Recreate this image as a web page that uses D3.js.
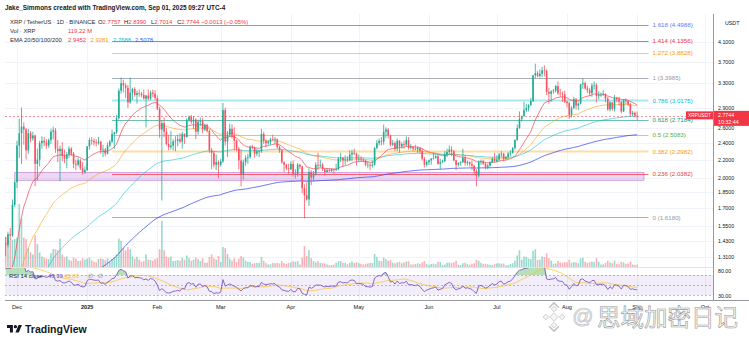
<!DOCTYPE html>
<html>
<head>
<meta charset="utf-8">
<script src="https://cdn.jsdelivr.net/npm/d3@7/dist/d3.min.js"></script>
<style>
html,body{margin:0;padding:0;background:#fff;}
svg{display:block;}
text{font-family:"Liberation Sans",Arial,sans-serif;}
</style>
</head>
<body>
<svg id="chart" width="749" height="345"></svg>
<script>
// XRP / TetherUS daily candles: [open, high, low, close, volume (M XRP)]
const firstDay = "2024-11-26";
const ohlcvNov = [
[1.41,1.46,1.32,1.40,1420],[1.40,1.50,1.38,1.48,1280],[1.48,1.53,1.44,1.47,1350],[1.47,1.78,1.46,1.73,1300],[1.73,1.97,1.71,1.95,1330]];
const ohlcvDec = [
[1.95,2.43,1.89,2.37,1400],[2.37,2.73,2.22,2.53,3000],[2.53,2.90,2.15,2.62,2300],[2.62,2.68,2.38,2.58,1400],[2.58,2.60,2.20,2.31,1330],
[2.31,2.59,2.27,2.53,900],[2.53,2.56,2.41,2.46,700],[2.46,2.55,2.43,2.50,600],[2.50,2.51,1.91,2.15,1500],[2.15,2.33,1.97,2.20,1100],
[2.20,2.43,2.12,2.40,700],[2.40,2.49,2.33,2.43,500],[2.43,2.48,2.36,2.41,450],[2.41,2.45,2.33,2.37,400],[2.37,2.46,2.34,2.44,380],
[2.44,2.59,2.39,2.55,650],[2.55,2.62,2.45,2.57,850],[2.57,2.60,2.28,2.33,850],[2.33,2.44,2.17,2.30,800],[2.30,2.37,1.96,2.33,1350],
[2.33,2.41,2.18,2.24,600],[2.24,2.32,2.16,2.21,450],[2.21,2.29,2.10,2.26,500],[2.26,2.36,2.22,2.33,350],[2.33,2.35,2.24,2.27,300],
[2.27,2.29,2.10,2.15,450],[2.15,2.20,2.08,2.14,400],[2.14,2.22,2.12,2.19,280],[2.19,2.21,2.08,2.10,300],[2.10,2.17,2.03,2.06,420],
[2.06,2.12,2.04,2.08,350]];
const ohlcvJan = [
[2.08,2.36,2.07,2.36,400],[2.36,2.47,2.32,2.44,450],[2.44,2.48,2.38,2.43,320],[2.43,2.46,2.37,2.41,250],[2.41,2.45,2.36,2.40,220],
[2.40,2.48,2.38,2.42,380],[2.42,2.43,2.27,2.31,420],[2.31,2.38,2.23,2.32,380],[2.32,2.34,2.24,2.27,330],[2.27,2.41,2.26,2.37,420],
[2.37,2.44,2.35,2.42,260],[2.42,2.58,2.40,2.52,380],[2.52,2.55,2.33,2.54,480],[2.54,2.79,2.52,2.74,600],[2.74,3.21,2.72,3.17,1350],
[3.17,3.40,3.12,3.30,1250],[3.30,3.36,3.14,3.26,900],[3.26,3.30,3.05,3.22,800],[3.22,3.27,2.89,2.98,950],[2.98,3.40,2.96,3.14,850],
[3.14,3.22,3.02,3.20,500],[3.20,3.23,3.07,3.10,400],[3.10,3.17,2.96,3.13,480],[3.13,3.19,3.07,3.12,350],[3.12,3.15,3.06,3.10,250],
[3.10,3.19,3.03,3.04,280],[3.04,3.10,2.61,3.09,600],[3.09,3.19,3.01,3.04,350],[3.04,3.17,3.02,3.14,330],[3.14,3.19,3.06,3.12,300],
[3.12,3.18,3.02,3.05,380]];
const ohlcvFeb = [
[3.05,3.09,2.86,2.88,420],[2.88,2.91,2.47,2.58,850],[2.58,2.71,1.77,2.67,2200],[2.67,2.75,2.48,2.55,800],[2.55,2.60,2.37,2.39,500],
[2.39,2.51,2.31,2.35,450],[2.35,2.56,2.32,2.37,500],[2.37,2.45,2.31,2.42,280],[2.42,2.49,2.30,2.43,300],[2.43,2.51,2.36,2.45,330],
[2.45,2.53,2.40,2.42,300],[2.42,2.55,2.33,2.52,450],[2.52,2.53,2.39,2.48,350],[2.48,2.74,2.47,2.71,550],[2.71,2.78,2.69,2.76,420],
[2.76,2.79,2.66,2.69,300],[2.69,2.77,2.59,2.72,350],[2.72,2.74,2.45,2.55,450],[2.55,2.72,2.51,2.69,380],[2.69,2.75,2.63,2.70,280],
[2.70,2.74,2.53,2.58,420],[2.58,2.66,2.56,2.64,200],[2.64,2.66,2.54,2.56,220],[2.56,2.58,2.28,2.31,480],[2.31,2.34,2.09,2.28,600],
[2.28,2.30,2.11,2.14,420],[2.14,2.26,2.08,2.17,350],[2.17,2.19,1.99,2.14,520]];
const ohlcvMar = [
[2.14,2.21,2.12,2.18,250],[2.18,2.97,2.16,2.86,950],[2.86,2.90,2.37,2.42,900],[2.42,2.56,2.23,2.51,620],[2.51,2.66,2.48,2.59,400],
[2.59,2.65,2.46,2.50,300],[2.50,2.61,2.31,2.43,420],[2.43,2.45,2.30,2.33,220],[2.33,2.35,2.09,2.19,400],[2.19,2.32,1.91,2.03,520],
[2.03,2.20,1.98,2.17,450],[2.17,2.25,2.13,2.22,300],[2.22,2.27,2.15,2.23,250],[2.23,2.37,2.21,2.35,230],[2.35,2.38,2.32,2.34,150],
[2.34,2.36,2.22,2.27,180],[2.27,2.33,2.24,2.30,200],[2.30,2.32,2.23,2.30,200],[2.30,2.59,2.28,2.52,480],[2.52,2.55,2.39,2.43,300],
[2.43,2.45,2.35,2.40,180],[2.40,2.44,2.38,2.42,120],[2.42,2.47,2.38,2.45,130],[2.45,2.51,2.43,2.44,200],[2.44,2.48,2.39,2.45,180],
[2.45,2.46,2.33,2.35,200],[2.35,2.37,2.28,2.31,170],[2.31,2.33,2.15,2.17,280],[2.17,2.18,2.06,2.14,180],[2.14,2.15,2.08,2.10,150],
[2.10,2.15,2.04,2.09,200]];
const ohlcvApr = [
[2.09,2.18,2.08,2.15,220],[2.15,2.19,2.01,2.04,280],[2.04,2.09,1.99,2.04,250],[2.04,2.16,2.01,2.14,280],[2.14,2.15,2.09,2.12,120],
[2.12,2.13,1.84,1.89,450],[1.89,1.93,1.61,1.82,1000],[1.82,1.95,1.77,1.78,520],[1.78,2.10,1.72,2.06,800],[2.06,2.08,1.92,2.00,420],
[2.00,2.07,1.97,2.04,280],[2.04,2.17,2.02,2.14,220],[2.14,2.28,2.08,2.13,280],[2.13,2.20,2.11,2.14,200],[2.14,2.16,2.07,2.09,180],
[2.09,2.10,2.02,2.06,170],[2.06,2.10,2.05,2.08,120],[2.08,2.10,2.06,2.07,100],[2.07,2.10,2.06,2.09,90],[2.09,2.09,2.04,2.08,110],
[2.08,2.15,2.07,2.09,200],[2.09,2.23,2.08,2.21,280],[2.21,2.28,2.17,2.22,280],[2.22,2.23,2.12,2.19,200],[2.19,2.25,2.14,2.20,200],
[2.20,2.24,2.17,2.19,130],[2.19,2.31,2.18,2.26,200],[2.26,2.32,2.18,2.28,260],[2.28,2.33,2.25,2.27,190],[2.27,2.28,2.13,2.20,230]];
const ohlcvMay = [
[2.20,2.26,2.18,2.21,180],[2.21,2.24,2.18,2.20,150],[2.20,2.22,2.17,2.19,120],[2.19,2.20,2.12,2.14,150],[2.14,2.18,2.10,2.14,170],
[2.14,2.16,2.08,2.13,200],[2.13,2.19,2.11,2.14,190],[2.14,2.35,2.13,2.34,620],[2.34,2.44,2.32,2.40,480],[2.40,2.46,2.37,2.43,300],
[2.43,2.48,2.37,2.42,280],[2.42,2.65,2.38,2.55,450],[2.55,2.61,2.47,2.58,380],[2.58,2.60,2.46,2.50,300],[2.50,2.51,2.36,2.38,320],
[2.38,2.44,2.36,2.40,200],[2.40,2.42,2.30,2.33,180],[2.33,2.46,2.30,2.43,220],[2.43,2.44,2.28,2.36,250],[2.36,2.41,2.33,2.39,180],
[2.39,2.43,2.33,2.38,220],[2.38,2.49,2.36,2.44,260],[2.44,2.48,2.32,2.34,280],[2.34,2.39,2.32,2.35,120],[2.35,2.36,2.30,2.33,120],
[2.33,2.38,2.31,2.32,150],[2.32,2.36,2.28,2.34,170],[2.34,2.34,2.27,2.30,150],[2.30,2.33,2.19,2.21,220],[2.21,2.23,2.11,2.14,280],
[2.14,2.19,2.12,2.17,150]];
const ohlcvJun = [
[2.17,2.20,2.14,2.19,100],[2.19,2.22,2.14,2.21,150],[2.21,2.28,2.20,2.22,160],[2.22,2.26,2.21,2.24,130],[2.24,2.26,2.14,2.15,250],
[2.15,2.21,2.09,2.17,230],[2.17,2.20,2.16,2.18,100],[2.18,2.30,2.17,2.26,120],[2.26,2.33,2.23,2.29,200],[2.29,2.37,2.27,2.32,210],
[2.32,2.36,2.24,2.30,190],[2.30,2.31,2.18,2.19,220],[2.19,2.20,2.08,2.14,300],[2.14,2.17,2.12,2.16,110],[2.16,2.18,2.13,2.17,100],
[2.17,2.33,2.16,2.22,180],[2.22,2.25,2.13,2.16,200],[2.16,2.19,2.13,2.17,140],[2.17,2.18,2.12,2.15,110],[2.15,2.19,2.08,2.13,150],
[2.13,2.14,2.03,2.07,180],[2.07,2.09,1.91,2.02,350],[2.02,2.19,2.00,2.17,300],[2.17,2.20,2.14,2.18,200],[2.18,2.20,2.14,2.15,150],
[2.15,2.17,2.09,2.11,150],[2.11,2.15,2.09,2.13,130],[2.13,2.18,2.12,2.17,100],[2.17,2.23,2.16,2.21,90],[2.21,2.28,2.17,2.18,150]];
const ohlcvJul = [
[2.18,2.25,2.17,2.20,170],[2.20,2.28,2.18,2.26,180],[2.26,2.30,2.23,2.27,160],[2.27,2.28,2.18,2.21,170],[2.21,2.24,2.20,2.23,90],
[2.23,2.29,2.21,2.27,90],[2.27,2.31,2.24,2.28,150],[2.28,2.35,2.27,2.34,180],[2.34,2.45,2.32,2.44,300],[2.44,2.65,2.43,2.60,550],
[2.60,2.84,2.59,2.73,800],[2.73,2.78,2.69,2.77,350],[2.77,2.99,2.76,2.86,500],[2.86,2.96,2.83,2.89,480],[2.89,2.95,2.84,2.94,400],
[2.94,3.05,2.92,3.00,380],[3.00,3.45,2.99,3.44,780],[3.44,3.66,3.38,3.48,850],[3.48,3.52,3.41,3.43,330],[3.43,3.55,3.40,3.47,350],
[3.47,3.60,3.41,3.53,500],[3.53,3.63,3.42,3.52,480],[3.52,3.55,3.10,3.15,650],[3.15,3.22,2.96,3.12,420],[3.12,3.18,2.99,3.16,300],
[3.16,3.20,3.12,3.17,150],[3.17,3.27,3.14,3.25,170],[3.25,3.33,3.10,3.13,280],[3.13,3.20,3.07,3.12,220],[3.12,3.16,2.99,3.11,200],
[3.11,3.17,2.97,2.99,230]];
const ohlcvAug = [
[2.99,3.01,2.90,2.97,220],[2.97,2.99,2.73,2.79,350],[2.79,2.92,2.75,2.89,200],[2.89,3.07,2.88,3.03,230],[3.03,3.05,2.87,2.93,220],
[2.93,2.98,2.86,2.96,180],[2.96,3.28,2.95,3.28,420],[3.28,3.38,3.20,3.30,450],[3.30,3.33,3.19,3.21,250],[3.21,3.26,3.13,3.18,200],
[3.18,3.22,3.08,3.13,230],[3.13,3.30,3.07,3.26,260],[3.26,3.33,3.19,3.27,230],[3.27,3.30,2.98,3.08,420],[3.08,3.16,3.03,3.10,250],
[3.10,3.14,3.07,3.10,120],[3.10,3.18,3.08,3.11,130],[3.11,3.13,2.98,3.04,200],[3.04,3.07,2.85,2.87,300],[2.87,3.00,2.84,2.98,220],
[2.98,2.99,2.85,2.88,180],[2.88,3.10,2.84,3.05,300],[3.05,3.07,2.98,3.03,150],[3.03,3.07,2.93,2.99,130],[2.99,3.00,2.81,2.84,250],
[2.84,3.03,2.83,3.01,220],[3.01,3.04,2.95,3.00,150],[3.00,3.01,2.92,2.95,170],[2.95,2.97,2.77,2.80,250],[2.80,2.85,2.77,2.82,120],
[2.82,2.84,2.75,2.78,100]];
const ohlcvSep = [[2.7757,2.8390,2.7014,2.7744,119.22]];

// Indicator settings and starting states
const emaPeriods = [20, 50, 100, 200];
const emaStart = [1.10, 0.95, 0.76, 0.68];
const rsiPeriod = 14;
const rsiStart = [0.06, 0.012];   // average gain / average loss

// Fibonacci retracement drawn from the 1.618 low to the 3.3985 high
const fibLevels = ["1.618", "1.414", "1.272", "1", "0.786", "0.618", "0.5", "0.382", "0.236", "0"];
const fibPrices = [4.4988, 4.1356, 3.8828, 3.3985, 3.0175, 2.7184, 2.5083, 2.2982, 2.0382, 1.6180];
const fibDates = ["2025-01-12", "2025-09-06"];
// Support zone box
const zoneDates = ["2024-11-30", "2025-09-04"];
const zonePrices = [1.97, 2.055];

// Axis ticks
const priceTicks = [4.1, 3.7, 3.3, 2.9, 2.6, 2.4, 2.2, 2.0, 1.85, 1.7, 1.55, 1.43, 1.31];
const rsiTicks = [80, 30];
const monthDates = ["2024-12-01","2025-01-01","2025-02-01","2025-03-01","2025-04-01","2025-05-01","2025-06-01","2025-07-01","2025-08-01","2025-09-01","2025-10-01"];
const monthLabels = ["Dec","2025","Feb","Mar","Apr","May","Jun","Jul","Aug","Sep","Oct"];

// ---------------------------------------------------------------
const parse = d3.utcParse("%Y-%m-%d");
const start = parse(firstDay);
const candles = [].concat(ohlcvNov, ohlcvDec, ohlcvJan, ohlcvFeb, ohlcvMar, ohlcvApr,
  ohlcvMay, ohlcvJun, ohlcvJul, ohlcvAug, ohlcvSep)
  .map((d, i) => ({date: d3.utcDay.offset(start, i), o: d[0], h: d[1], l: d[2], c: d[3], v: d[4]}));
const closes = candles.map(d => d.c);
const last = candles[candles.length - 1];

function ema(values, period, init) {
  const a = 2 / (period + 1); let e = init;
  return values.map(v => (e = e + a * (v - e)));
}
const emas = emaPeriods.map((p, i) => ema(closes, p, emaStart[i]));

function rsiSeries(values, prev, g0, l0, n) {
  let g = g0, l = l0, p = prev;
  return values.map(v => {
    const ch = v - p; p = v;
    g = (g * (n - 1) + Math.max(ch, 0)) / n;
    l = (l * (n - 1) + Math.max(-ch, 0)) / n;
    return 100 - 100 / (1 + g / l);
  });
}
const rsi = rsiSeries(closes, candles[0].o, rsiStart[0], rsiStart[1], rsiPeriod);
const rsiMa = rsi.map((v, i) => d3.mean(rsi.slice(Math.max(0, i - 13), i + 1)));

// ---------------------------------------------------------------
const W = 749, H = 345;
const L = 5, R = 713, mainTop = 14, mainBot = 267, rsiTop = 268, rsiBot = 300;
const UP = "#22ab94", DOWN = "#f7525f";
const DARK = "#131722";

const x = d3.scaleUtc().domain([parse("2024-12-01"), parse("2025-08-01")]).range([17, 567]);
const y = d3.scaleLog().domain([1.31, 4.1]).range([257.2, 42.3]);
const vh = d3.scaleLinear().domain([0, 3000]).range([0, 63]);
const ry = d3.scaleLinear().domain([30, 70]).range([295, 275]);
const crisp = v => Math.round(v) + 0.5;

const svg = d3.select("#chart");
svg.append("rect").attr("width", W).attr("height", H).attr("fill", "#fff");
const defs = svg.append("defs");
defs.append("clipPath").attr("id", "clipMain").append("rect")
  .attr("x", L).attr("y", mainTop).attr("width", R - L).attr("height", mainBot - mainTop);
defs.append("clipPath").attr("id", "clipRsi").append("rect")
  .attr("x", L).attr("y", rsiTop).attr("width", R - L).attr("height", rsiBot - rsiTop);

// grid
const grid = svg.append("g").attr("stroke", "#f0f3fa").attr("stroke-width", 1);
priceTicks.forEach(p => grid.append("line").attr("x1", L).attr("x2", R)
  .attr("y1", crisp(y(p))).attr("y2", crisp(y(p))));
monthDates.forEach(d => {
  const xx = crisp(x(parse(d)));
  if (xx > L && xx < R) grid.append("line").attr("x1", xx).attr("x2", xx).attr("y1", mainTop).attr("y2", rsiBot);
});

const main = svg.append("g").attr("clip-path", "url(#clipMain)");

// volume
main.append("g").selectAll("rect").data(candles).join("rect")
  .attr("x", d => x(d.date) - 0.8).attr("width", 1.6)
  .attr("y", d => mainBot - vh(d.v)).attr("height", d => vh(d.v))
  .attr("fill", d => d.c >= d.o ? "rgba(34,171,148,0.45)" : "rgba(247,82,95,0.45)");

// support zone
main.append("rect")
  .attr("x", x(parse(zoneDates[0]))).attr("width", x(parse(zoneDates[1])) - x(parse(zoneDates[0])))
  .attr("y", y(zonePrices[1])).attr("height", y(zonePrices[0]) - y(zonePrices[1]))
  .attr("fill", "rgba(156,39,176,0.18)").attr("stroke", "rgba(156,39,176,0.45)").attr("stroke-width", 0.8);

// fibonacci lines
const fibColor = ["#5b7cfa", "#f23645", "#ff9800", "#9598a1", "#00bcd4", "#089981", "#4caf50", "#ff9800", "#f23645", "#9598a1"];
const fibWidth = [1, 1, 1, 1, 2.2, 1, 1, 2, 1.2, 1];
const fibOpacity = [0.8, 0.75, 0.55, 0.8, 0.35, 0.6, 0.5, 0.35, 0.75, 0.8];
const fx0 = x(parse(fibDates[0])), fx1 = x(parse(fibDates[1]));
fibPrices.forEach((p, i) => {
  main.append("line").attr("x1", fx0).attr("x2", fx1)
    .attr("y1", crisp(y(p))).attr("y2", crisp(y(p)))
    .attr("stroke", fibColor[i]).attr("stroke-width", fibWidth[i]).attr("stroke-opacity", fibOpacity[i]);
});

// last price line
main.append("line").attr("x1", L).attr("x2", R)
  .attr("y1", crisp(y(last.c))).attr("y2", crisp(y(last.c)))
  .attr("stroke", "#f23645").attr("stroke-opacity", 0.55).attr("stroke-dasharray", "2,2");

// EMA lines
const emaColor = ["#f23645", "#ff9800", "#00bcd4", "#2c3ff0"];
const emaOpacity = [0.65, 0.55, 0.55, 0.7];
emas.forEach((s, k) => {
  main.append("path").datum(s)
    .attr("fill", "none").attr("stroke", emaColor[k]).attr("stroke-width", 1).attr("stroke-opacity", emaOpacity[k])
    .attr("d", d3.line().x((v, i) => x(candles[i].date)).y(v => y(v)));
});

// candles
const cg = main.append("g");
cg.selectAll("line").data(candles).join("line")
  .attr("x1", d => x(d.date)).attr("x2", d => x(d.date))
  .attr("y1", d => y(d.h)).attr("y2", d => y(d.l))
  .attr("stroke", d => d.c >= d.o ? UP : DOWN).attr("stroke-width", 0.8);
cg.selectAll("rect").data(candles).join("rect")
  .attr("x", d => x(d.date) - 0.8).attr("width", 1.6)
  .attr("y", d => y(Math.max(d.o, d.c)))
  .attr("height", d => Math.max(0.6, Math.abs(y(d.o) - y(d.c))))
  .attr("fill", d => d.c >= d.o ? UP : DOWN);

// fibonacci labels
fibPrices.forEach((p, i) => {
  svg.append("text").attr("x", fx1 + 4).attr("y", y(p)).attr("dominant-baseline", "central")
    .attr("font-size", 6.2).attr("fill", fibColor[i]).text(`${fibLevels[i]} (${p.toFixed(4)})`);
});

// ---------------- RSI pane ----------------
svg.append("line").attr("x1", L).attr("x2", W).attr("y1", rsiTop - 0.5).attr("y2", rsiTop - 0.5).attr("stroke", "#e0e3eb");
const rp = svg.append("g").attr("clip-path", "url(#clipRsi)");
rp.append("rect").attr("x", L).attr("width", R - L).attr("y", ry(70)).attr("height", ry(30) - ry(70))
  .attr("fill", "rgba(126,87,194,0.1)");
[70, 50, 30].forEach(v => rp.append("line").attr("x1", L).attr("x2", R)
  .attr("y1", crisp(ry(v))).attr("y2", crisp(ry(v)))
  .attr("stroke", "#787b86").attr("stroke-opacity", 0.5).attr("stroke-dasharray", "2,2"));
rp.append("path").datum(rsi)
  .attr("fill", "rgba(76,175,80,0.4)")
  .attr("d", d3.area().x((v, i) => x(candles[i].date)).y0(ry(70)).y1(v => ry(Math.max(v, 70))));
rp.append("path").datum(rsiMa).attr("fill", "none").attr("stroke", "#fbc02d").attr("stroke-opacity", 0.8).attr("stroke-width", 0.9)
  .attr("d", d3.line().x((v, i) => x(candles[i].date)).y(v => ry(v)));
rp.append("path").datum(rsi).attr("fill", "none").attr("stroke", "#7e57c2").attr("stroke-width", 0.9)
  .attr("d", d3.line().x((v, i) => x(candles[i].date)).y(v => ry(v)));

// ---------------- price axis ----------------
svg.append("rect").attr("x", R).attr("y", mainTop).attr("width", W - R).attr("height", rsiBot - mainTop).attr("fill", "#fff");
svg.append("line").attr("x1", R + 0.5).attr("x2", R + 0.5).attr("y1", mainTop).attr("y2", rsiBot).attr("stroke", "#9598a1");
svg.append("line").attr("x1", L).attr("x2", W).attr("y1", rsiBot + 0.5).attr("y2", rsiBot + 0.5).attr("stroke", "#9598a1").attr("stroke-width", 1.2);
priceTicks.forEach(p => svg.append("text").attr("x", R + 5).attr("y", y(p)).attr("dominant-baseline", "central")
  .attr("font-size", 5.3).attr("fill", DARK).text(p.toFixed(4)));
rsiTicks.forEach(v => svg.append("text").attr("x", R + 5).attr("y", ry(v) + 1.2).attr("dominant-baseline", "central")
  .attr("font-size", 5.3).attr("fill", DARK).text(v.toFixed(2)));
svg.append("text").attr("x", R + 12).attr("y", 22.5).attr("dominant-baseline", "central")
  .attr("font-size", 5.3).attr("fill", DARK).text("USDT");

// last price tags
const ly = y(last.c);
svg.append("rect").attr("x", 686).attr("y", ly - 4.5).attr("width", R - 686).attr("height", 8).attr("fill", "#f23645");
svg.append("text").attr("x", 699.5).attr("y", ly - 0.5).attr("text-anchor", "middle").attr("dominant-baseline", "central")
  .attr("font-size", 4.8).attr("fill", "#fff").text("XRPUSDT");
svg.append("rect").attr("x", R + 1).attr("y", ly - 5).attr("width", W - R - 1).attr("height", 15).attr("fill", "#f23645");
svg.append("text").attr("x", R + 5).attr("y", ly - 0.5).attr("dominant-baseline", "central")
  .attr("font-size", 5.3).attr("fill", "#fff").text(last.c.toFixed(4));
svg.append("text").attr("x", R + 5).attr("y", ly + 6).attr("dominant-baseline", "central")
  .attr("font-size", 5.3).attr("fill", "#fff").text("10:32:44");

// ---------------- time axis ----------------
monthDates.forEach((d, i) => {
  svg.append("text").attr("x", x(parse(d))).attr("y", 307).attr("text-anchor", "middle").attr("dominant-baseline", "central")
    .attr("font-size", 5.6).attr("font-weight", monthLabels[i] === "2025" ? "bold" : "normal")
    .attr("fill", DARK).text(monthLabels[i]);
});

// ---------------- legends ----------------
svg.append("text").attr("x", 5).attr("y", 7.5).attr("dominant-baseline", "central")
  .attr("font-size", 6.4).attr("font-weight", "bold").attr("fill", DARK)
  .text("Jake_Simmons created with TradingView.com, Sep 01, 2025 09:27 UTC-4");

const LG = 5.9, RED = "#f23645";
function legendLine(yy, parts) {
  parts.forEach(([xx, segs]) => {
    const t = svg.append("text").attr("x", xx).attr("y", yy).attr("dominant-baseline", "central").attr("font-size", LG);
    segs.forEach(([s, col]) => t.append("tspan").attr("fill", col).text(s));
  });
}
const chg = last.c - last.o;
legendLine(21.8, [
  [10, [["XRP / TetherUS · 1D · BINANCE", "#2a2e39"]]],
  [98, [["O", DARK], [last.o.toFixed(4), RED]]],
  [124, [["H", DARK], [last.h.toFixed(4), RED]]],
  [151, [["L", DARK], [last.l.toFixed(4), RED]]],
  [177, [["C", DARK], [last.c.toFixed(4), RED]]],
  [201, [["−" + Math.abs(chg).toFixed(4) + " (−" + Math.abs(chg / last.o * 100).toFixed(2) + "%)", RED]]]
]);
legendLine(30.8, [
  [10, [["Vol · XRP", "#2a2e39"]]],
  [68, [[last.v.toFixed(2) + " M", RED]]]
]);
legendLine(39.6, [
  [10, [["EMA 20/50/100/200", "#2a2e39"]]],
  [68, [["2.9452", "#f23645"]]],
  [90.5, [["2.9281", "#ff9800"]]],
  [113, [["2.7688", "#00bcd4"]]],
  [135, [["2.5078", "#2962ff"]]]
]);
legendLine(276, [
  [9, [["RSI 14 close", "#2a2e39"]]],
  [48, [["40.39", "#7e57c2"]]],
  [64, [["45.03", "#fbc02d"]]],
  [88, [["∅", "#787b86"]]],
  [98, [["∅", "#787b86"]]]
]);

// ---------------- TradingView logo ----------------
const logo = svg.append("g").attr("transform", "translate(7,323.3) scale(0.42)").attr("fill", DARK);
logo.append("path").attr("d", "M14 22H7V11H0V4h14v18z");
logo.append("path").attr("d", "M28 22h-8l7.5-18h8L28 22z");
logo.append("circle").attr("cx", 20).attr("cy", 8).attr("r", 4);
svg.append("text").attr("x", 25).attr("y", 333).attr("font-size", 10.5).attr("font-weight", "bold")
  .attr("fill", DARK).text("TradingView");

// ---------------- watermark ----------------
const wm = svg.append("g").attr("fill", "#f4f4f4").attr("stroke", "#c2c2c2").attr("stroke-width", 0.7);
const dm = wm.append("g").attr("transform", "translate(554,317) rotate(45)");
dm.append("rect").attr("x", -3).attr("y", -3).attr("width", 6).attr("height", 6);
[[-8, -8], [8, 8], [-8, 8], [8, -8]].forEach(([a, b]) =>
  dm.append("rect").attr("x", a / 1.4 - 2).attr("y", b / 1.4 - 2).attr("width", 4).attr("height", 4));
dm.append("path").attr("d", "M-10,-3 L-10,-10 L-3,-10 M3,10 L10,10 L10,3").attr("fill", "none").attr("stroke-width", 1.6);
wm.append("text").attr("x", 583).attr("y", 323).attr("text-anchor", "middle").attr("font-size", 21).text("@");
wm.append("text").attr("x", 597).attr("y", 326).attr("font-size", 23.5)
  .style("font-family", "'Noto Sans CJK SC', sans-serif").attr("stroke", "#999").attr("stroke-width", 0.6)
  .attr("fill", "rgba(250,250,250,0.85)").text("思域加密日记");
</script>
</body>
</html>
